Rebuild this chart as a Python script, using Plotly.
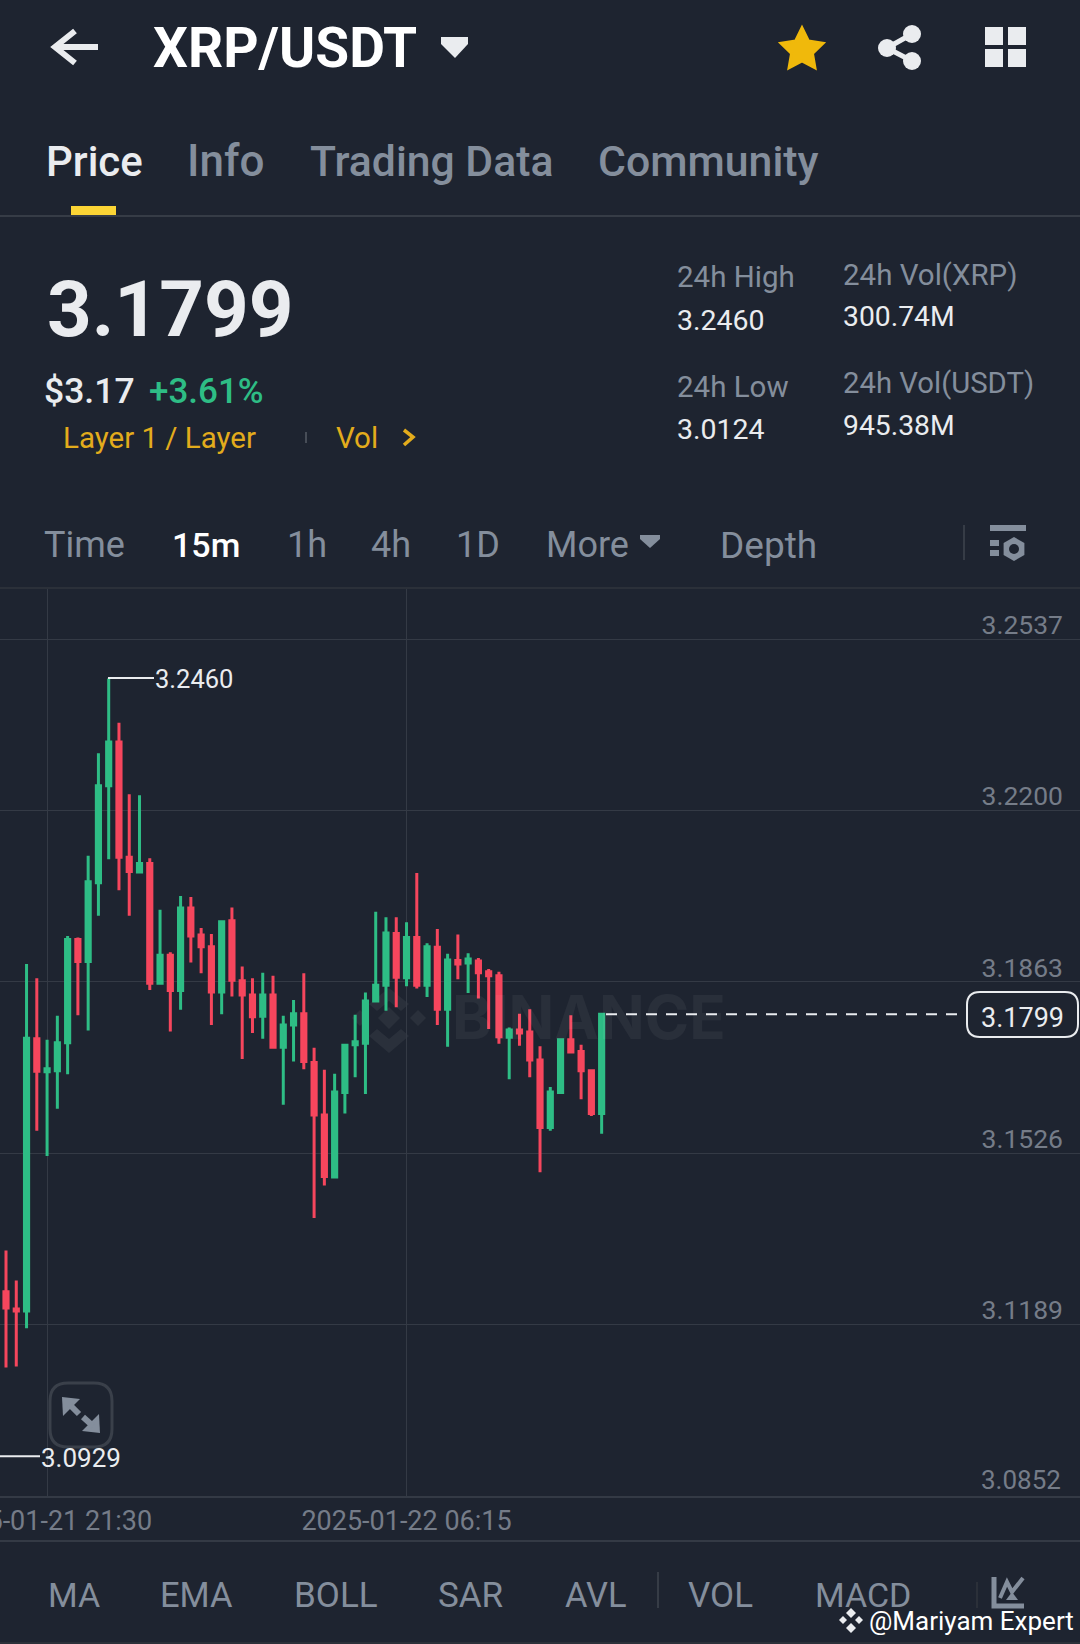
import math
import pandas as pd
import plotly.graph_objects as go

W, H = 1080, 1644

# 15m candles
times = pd.date_range("2025-01-21 20:30", periods=59, freq="15min").strftime("%Y-%m-%d %H:%M").tolist()
opens = [3.1253, 3.1219, 3.1215, 3.1751, 3.1686, 3.1688, 3.1743, 3.1946, 3.1903, 3.2058,
         3.2249, 3.2335, 3.2108, 3.2079, 3.2096, 3.1860, 3.1915, 3.1846, 3.2008, 3.1955,
         3.1932, 3.1843, 3.1983, 3.1865, 3.1837, 3.1795, 3.1837, 3.1734, 3.1778, 3.1800,
         3.1704, 3.1601, 3.1479, 3.1645, 3.1739, 3.1742, 3.1825, 3.1856, 3.1958, 3.1871,
         3.1950, 3.1856, 3.1931, 3.1809, 3.1905, 3.1900, 3.1904, 3.1883, 3.1875, 3.1754,
         3.1768, 3.1764, 3.1709, 3.1576, 3.1645, 3.1749, 3.1726, 3.1688, 3.1604]
closes = [3.1221, 3.1215, 3.1752, 3.1687, 3.1692, 3.1743, 3.1946, 3.1903, 3.2060, 3.2249,
          3.2335, 3.2108, 3.2080, 3.2096, 3.1860, 3.1915, 3.1846, 3.2008, 3.1953, 3.1932,
          3.1843, 3.1981, 3.1866, 3.1837, 3.1794, 3.1837, 3.1734, 3.1778, 3.1800, 3.1706,
          3.1601, 3.1480, 3.1646, 3.1738, 3.1745, 3.1825, 3.1856, 3.1959, 3.1872, 3.1950,
          3.1856, 3.1932, 3.1809, 3.1906, 3.1898, 3.1908, 3.1881, 3.1875, 3.1755, 3.1768,
          3.1762, 3.1709, 3.1576, 3.1646, 3.1749, 3.1725, 3.1688, 3.1604, 3.1799]
highs = [3.1334, 3.1275, 3.1898, 3.1870, 3.1749, 3.1796, 3.1953, 3.1950, 3.2111, 3.2313,
         3.2460, 3.2373, 3.2232, 3.2230, 3.2106, 3.2005, 3.1921, 3.2032, 3.2030, 3.1969,
         3.1957, 3.1981, 3.2009, 3.1893, 3.1870, 3.1881, 3.1875, 3.1796, 3.1827, 3.1880,
         3.1733, 3.1690, 3.1682, 3.1738, 3.1798, 3.1842, 3.2001, 3.1990, 3.1990, 3.1980,
         3.2077, 3.1939, 3.1967, 3.1918, 3.1956, 3.1919, 3.1910, 3.1888, 3.1883, 3.1773,
         3.1800, 3.1809, 3.1736, 3.1656, 3.1749, 3.1797, 3.1739, 3.1690, 3.1799]
lows = [3.1104, 3.1106, 3.1181, 3.1570, 3.1520, 3.1613, 3.1681, 3.1797, 3.1767, 3.1993,
        3.2104, 3.2043, 3.1993, 3.2079, 3.1847, 3.1859, 3.1765, 3.1808, 3.1901, 3.1880,
        3.1778, 3.1799, 3.1834, 3.1711, 3.1762, 3.1751, 3.1734, 3.1621, 3.1706, 3.1691,
        3.1398, 3.1462, 3.1477, 3.1604, 3.1675, 3.1642, 3.1825, 3.1806, 3.1813, 3.1854,
        3.1850, 3.1833, 3.1778, 3.1735, 3.1868, 3.1841, 3.1830, 3.1770, 3.1741, 3.1671,
        3.1737, 3.1675, 3.1488, 3.1570, 3.1644, 3.1725, 3.1632, 3.1599, 3.1564]

price_ticks = [3.2537, 3.2200, 3.1863, 3.1526, 3.1189, 3.0852]
price_labels = ["3.2537", "3.2200", "3.1863", "3.1526", "3.1189", "3.0852"]
time_ticks = ["2025-01-21 21:30", "2025-01-22 06:15"]
last_price = 3.1799
day_high = 3.2460
day_low_shown = 3.0929

BG = "#1e2430"
GRID = "#343a45"
TEXT = "#eaecef"
GREY = "#848e9c"
DIM = "#757c88"
RED = "#f6465d"
GREEN = "#2ebd85"
GOLD = "#e3ac1c"
MARK = "#2a303b"
FONT = "Roboto"

annotations = []
shapes = []


def X(x):
    return x / W


def Y(y):
    return 1 - y / H


def label(text, x, y, size, color=GREY, anchor="left", weight=400, family=FONT):
    annotations.append(dict(text=text, x=X(x), y=Y(y), xref="paper", yref="paper", xanchor=anchor,
                            yanchor="middle", showarrow=False, borderpad=0,
                            font=dict(family=family, size=size, color=color, weight=weight)))


def poly(points, color, close=True, width=0, layer="above", fill=True):
    path = "M" + " L".join(f"{X(a):.5f},{Y(b):.5f}" for a, b in points) + (" Z" if close else "")
    shapes.append(dict(type="path", path=path, xref="paper", yref="paper", layer=layer,
                       fillcolor=color if fill else "rgba(0,0,0,0)",
                       line=dict(color=color, width=width)))


def seg(x0, y0, x1, y1, color, width):
    shapes.append(dict(type="line", x0=X(x0), y0=Y(y0), x1=X(x1), y1=Y(y1), xref="paper", yref="paper",
                       line=dict(color=color, width=width)))


def box(x0, y0, x1, y1, color):
    shapes.append(dict(type="rect", x0=X(x0), y0=Y(y0), x1=X(x1), y1=Y(y1), xref="paper", yref="paper",
                       fillcolor=color, line=dict(width=0)))


def round_box(x0, y0, x1, y1, r, edge, width, fill=BG):
    p = (f"M{X(x0+r):.5f},{Y(y0):.5f} L{X(x1-r):.5f},{Y(y0):.5f} Q{X(x1):.5f},{Y(y0):.5f} {X(x1):.5f},{Y(y0+r):.5f} "
         f"L{X(x1):.5f},{Y(y1-r):.5f} Q{X(x1):.5f},{Y(y1):.5f} {X(x1-r):.5f},{Y(y1):.5f} "
         f"L{X(x0+r):.5f},{Y(y1):.5f} Q{X(x0):.5f},{Y(y1):.5f} {X(x0):.5f},{Y(y1-r):.5f} "
         f"L{X(x0):.5f},{Y(y0+r):.5f} Q{X(x0):.5f},{Y(y0):.5f} {X(x0+r):.5f},{Y(y0):.5f} Z")
    shapes.append(dict(type="path", path=p, xref="paper", yref="paper", fillcolor=fill,
                       line=dict(color=edge, width=width)))


def circle(cx, cy, r, color):
    shapes.append(dict(type="circle", x0=X(cx - r), y0=Y(cy - r), x1=X(cx + r), y1=Y(cy + r),
                       xref="paper", yref="paper", fillcolor=color, line=dict(width=0)))


def diamond(cx, cy, r, color, layer="above"):
    poly([(cx, cy - r), (cx + r, cy), (cx, cy + r), (cx - r, cy)], color, layer=layer)


# header
poly([(75, 31), (55, 47), (75, 63)], TEXT, close=False, width=6, fill=False)
seg(56, 47, 98, 47, TEXT, 6)
label("XRP/USDT", 152, 48, 55, "#ffffff", weight=700)
poly([(441, 37), (468, 37), (468, 44), (455, 58), (441, 44)], TEXT)
star = []
for k in range(10):
    r = 22 if k % 2 == 0 else 11
    a = math.pi * k / 5
    star.append((802 + r * math.sin(a), 50 - r * math.cos(a)))
poly(star, "#f0b90b", width=3)
seg(912, 34, 887, 48, TEXT, 5)
seg(887, 48, 912, 61, TEXT, 5)
circle(912, 34, 9, TEXT)
circle(887, 48, 9, TEXT)
circle(912, 61, 9, TEXT)
box(985, 27, 1003, 45, TEXT)
box(1008, 27, 1026, 45, TEXT)
box(985, 49, 1003, 67, TEXT)
box(1008, 49, 1026, 67, TEXT)

# tabs
label("Price", 45, 161, 42, TEXT, weight=500)
label("Info", 186, 161, 44, GREY, weight=500)
label("Trading Data", 309, 161, 42.7, GREY, weight=500)
label("Community", 597, 161, 42.8, GREY, weight=500)
box(71, 206, 116, 215, "#fcd535")
box(0, 215, W, 217, "#363c46")

# price block
label("3.1799", 46, 310, 78, TEXT, weight=700)
label("$3.17", 43, 391, 35.5, TEXT, weight=500)
label("+3.61%", 148, 391, 35, GREEN, weight=500)
label("Layer 1 / Layer", 62, 438, 29.5, GOLD)
box(305, 432, 307, 443, "#474d57")
label("Vol", 335, 438, 29.5, GOLD)
poly([(404, 430), (413, 437), (404, 445)], GOLD, close=False, width=3.5, fill=False)
label("24h High", 676, 277, 29.5, GREY)
label("3.2460", 676, 320, 28.5, TEXT)
label("24h Low", 676, 387, 29.5, GREY)
label("3.0124", 676, 429, 28.5, TEXT)
label("24h Vol(XRP)", 842, 275, 29.5, GREY)
label("300.74M", 842, 316, 28.3, TEXT)
label("24h Vol(USDT)", 842, 383, 29.3, GREY)
label("945.38M", 842, 426, 28.3, TEXT)

# timeframe row
label("Time", 43, 545, 36, GREY)
label("15m", 171, 545, 34, "#ffffff", weight=500)
label("1h", 286, 545, 36, GREY)
label("4h", 370, 545, 36, GREY)
label("1D", 455, 545, 36, GREY)
label("More", 545, 545, 36, GREY)
poly([(640, 535), (660, 535), (660, 539), (650, 548), (640, 539)], GREY)
label("Depth", 719, 545, 37, GREY)
box(963, 525, 965, 560, "#363c46")
box(990, 525, 1026, 531, GREY)
box(990, 540, 999, 546, GREY)
box(990, 550, 999, 556, GREY)
hexagon = [(1014 + 12 * math.sin(math.pi * k / 3), 549 - 12 * math.cos(math.pi * k / 3)) for k in range(6)]
poly(hexagon, GREY)
circle(1014, 549, 5, BG)
box(0, 587, W, 589, "#2b3039")

# faint logo behind the candles
diamond(389, 1018, 11, MARK, layer="below")
diamond(418, 1018, 8, MARK, layer="below")
diamond(360, 1018, 8, MARK, layer="below")
poly([(389, 988), (409, 1004), (401, 1011), (389, 1001), (377, 1011), (369, 1004)], MARK, layer="below")
poly([(389, 1053), (409, 1036), (401, 1029), (389, 1039), (377, 1029), (369, 1036)], MARK, layer="below")
label("BINANCE", 589, 1017, 60, "rgba(255,255,255,0.05)", anchor="center", weight=700, family="Inter")

# high, low and last price markers
seg(108, 678, 154, 678, TEXT, 2)
annotations.append(dict(text=f"{day_high:.4f}", x=X(154), y=day_high, xref="paper", yref="y", xanchor="left",
                        yanchor="middle", showarrow=False, borderpad=0, yshift=-1,
                        font=dict(family=FONT, size=25.5, color=TEXT)))
shapes.append(dict(type="line", x0=0, x1=X(40), y0=day_low_shown, y1=day_low_shown, xref="paper", yref="y",
                   line=dict(color=TEXT, width=2)))
annotations.append(dict(text=f"{day_low_shown:.4f}", x=X(40), y=day_low_shown, xref="paper", yref="y", xanchor="left",
                        yanchor="middle", showarrow=False, borderpad=0, yshift=-2,
                        font=dict(family=FONT, size=26, color=TEXT)))
shapes.append(dict(type="line", x0=X(606), x1=X(960), y0=last_price, y1=last_price, xref="paper", yref="y",
                   line=dict(color=TEXT, width=2, dash="11px,9px")))
round_box(967, 992, 1078, 1037, 13, TEXT, 2)
label(f"{last_price:.4f}", 1022, 1018, 27, TEXT, anchor="center")

# the bottom price label sits too low for the axis to keep it
annotations.append(dict(text=price_labels[-1], x=X(1062), y=price_ticks[-1], xref="paper", yref="y", xanchor="right",
                        yanchor="middle", showarrow=False, borderpad=0, yshift=15,
                        font=dict(family=FONT, size=26, color=DIM)))

# expand button
round_box(50, 1383, 112, 1447, 18, "#3a404a", 3, fill="rgba(0,0,0,0)")
poly([(62, 1397), (80, 1399), (63, 1416)], GREY)
seg(69, 1404, 79, 1414, GREY, 6)
poly([(100, 1433), (82, 1431), (99, 1414)], GREY)
seg(83, 1417, 93, 1426, GREY, 6)

# axis strip and indicator row
box(0, 1540, W, 1542, GRID)
label("MA", 47, 1595, 34, GREY)
label("EMA", 159, 1595, 34.5, GREY)
label("BOLL", 293, 1595, 35, GREY)
label("SAR", 437, 1595, 35, GREY)
label("AVL", 564, 1595, 34.5, GREY)
box(657, 1572, 659, 1608, "#363c46")
label("VOL", 687, 1595, 35, GREY)
label("MACD", 814, 1595, 34, GREY)
box(976, 1582, 978, 1608, "#2b3039")
poly([(994, 1577), (994, 1606), (1024, 1606)], GREY, close=False, width=5, fill=False)
poly([(1000, 1598), (1007, 1582), (1012, 1592), (1023, 1578)], GREY, close=False, width=4, fill=False)
poly([(1006, 1600), (1012, 1592), (1018, 1600)], GREY)
box(0, 1642, W, 1644, "#2b3039")

# watermark
diamond(851, 1613, 5, TEXT)
diamond(851, 1628, 5, TEXT)
diamond(843, 1620, 4, TEXT)
diamond(859, 1620, 4, TEXT)
label("@Mariyam Expert", 868, 1621, 26, "#ffffff")

fig = go.Figure(go.Candlestick(
    x=times, open=opens, high=highs, low=lows, close=closes,
    increasing=dict(line=dict(color=GREEN, width=3), fillcolor=GREEN),
    decreasing=dict(line=dict(color=RED, width=3), fillcolor=RED),
    showlegend=False,
))

fig.update_layout(
    width=W, height=H, margin=dict(l=0, r=0, t=0, b=0, autoexpand=False),
    paper_bgcolor=BG, plot_bgcolor=BG, boxgap=0.42, showlegend=False,
    annotations=annotations, shapes=shapes,
    xaxis=dict(type="date", domain=[0, 1], range=["2025-01-21 20:21:14", "2025-01-22 22:38:42"],
               rangeslider=dict(visible=False), tickmode="array", tickvals=time_ticks, ticktext=time_ticks,
               showgrid=True, gridcolor=GRID, gridwidth=1, showline=True, linecolor=GRID, linewidth=2,
               ticks="", ticklabeloverflow="allow", tickfont=dict(family=FONT, size=27, color=DIM)),
    yaxis=dict(domain=[1 - 1496 / H, 1 - 588 / H], range=[3.0851, 3.2638], side="right", tickmode="array",
               tickvals=price_ticks, ticktext=price_labels[:-1] + [""], showgrid=True, gridcolor=GRID, gridwidth=1,
               zeroline=False, ticks="", ticklabelposition="inside top", ticklabelstandoff=14, ticklabelshift=4,
               tickfont=dict(family=FONT, size=26.5, color=DIM)),
)

fig.write_html("out.html", config=dict(displayModeBar=False),
               post_script="document.body.style.margin='0';document.documentElement.style.overflow='hidden';")
